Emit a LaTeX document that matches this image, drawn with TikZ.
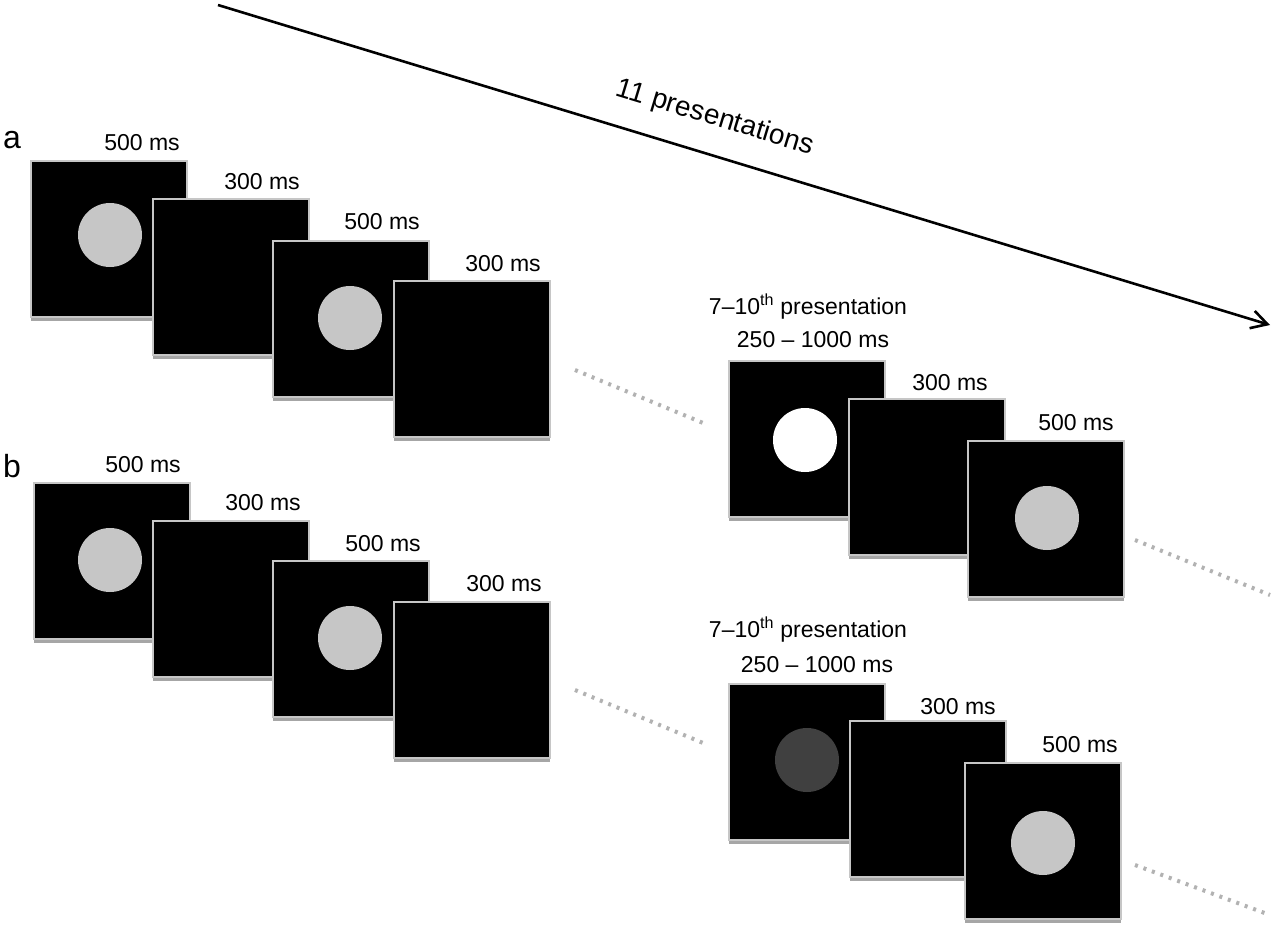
\documentclass[tikz,border=0pt]{standalone}
\usepackage{fontspec}
\setmainfont{Liberation Sans}
\usetikzlibrary{arrows.meta}
\begin{document}
\begin{tikzpicture}[x=1pt,y=-1pt,
 scr/.style={draw=gray!45,line width=1.5pt,fill=black,minimum width=156pt,minimum height=156pt,anchor=north west,inner sep=0pt,
   preaction={fill=gray!70,transform canvas={yshift=-4pt}}},
 dot/.style={circle,minimum size=64pt,inner sep=0pt,draw=none},
 lbl/.style={font=\fontsize{23}{26}\selectfont,inner sep=0pt},
 dl/.style={line width=4pt,gray!60,dash pattern=on 3pt off 6pt}]
\useasboundingbox (0,0) rectangle (1272,932);
\fill[white] (0,0) rectangle (1272,932);
% arrow
\coordinate (s) at (218,5); \coordinate (e) at (1270,325);
\draw[line width=2.6pt,-{Straight Barb[length=16pt,width=18pt]}] (s) -- (e);
\node[lbl,font=\fontsize{28}{30}\selectfont,rotate=-16.9] (tt) at (715,118) {11 presentations};
% row a
\node[lbl,font=\fontsize{32}{34}\selectfont] (la) at (12,140) {a};
\node[scr] (a1) at (30,160) {};
\node[scr] (a2) at (152,198) {};
\node[scr] (a3) at (272,240) {};
\node[scr] (a4) at (393,280) {};
\node[dot,fill=gray!45] (ca1) at (110,235) {};
\node[dot,fill=gray!45] (ca3) at (350,318) {};
\node[lbl] (ta1) at (142,143) {500 ms};
\node[lbl] (ta2) at (262,182) {300 ms};
\node[lbl] (ta3) at (382,222) {500 ms};
\node[lbl] (ta4) at (503,264) {300 ms};
% row b
\node[lbl,font=\fontsize{32}{34}\selectfont] (lb) at (12,466) {b};
\node[scr] (b1) at (33,482) {};
\node[scr] (b2) at (152,520) {};
\node[scr] (b3) at (272,560) {};
\node[scr] (b4) at (393,601) {};
\node[dot,fill=gray!45] (cb1) at (110,560) {};
\node[dot,fill=gray!45] (cb3) at (350,638) {};
\node[lbl] (tb1) at (143,465) {500 ms};
\node[lbl] (tb2) at (263,503) {300 ms};
\node[lbl] (tb3) at (383,544) {500 ms};
\node[lbl] (tb4) at (504,584) {300 ms};
% right upper
\node[scr] (c1) at (728,360) {};
\node[scr] (c2) at (848,398) {};
\node[scr] (c3) at (967,440) {};
\node[dot,fill=white] (cc1) at (805,440) {};
\node[dot,fill=gray!45] (cc3) at (1047,518) {};
\node[lbl] (tc0) at (808,307) {7–10\textsuperscript{th} presentation};
\node[lbl] (tc1) at (813,340) {250 – 1000 ms};
\node[lbl] (tc2) at (950,383) {300 ms};
\node[lbl] (tc3) at (1076,423) {500 ms};
% right lower
\node[scr] (d1) at (728,683) {};
\node[scr] (d2) at (849,720) {};
\node[scr] (d3) at (964,762) {};
\node[dot,fill=black!75] (cd1) at (807,760) {};
\node[dot,fill=gray!45] (cd3) at (1043,843) {};
\node[lbl] (td0) at (808,630) {7–10\textsuperscript{th} presentation};
\node[lbl] (td1) at (817,665) {250 – 1000 ms};
\node[lbl] (td2) at (958,707) {300 ms};
\node[lbl] (td3) at (1080,745) {500 ms};
% dotted
\coordinate (p1) at (575,370); \coordinate (p2) at (708,425);
\coordinate (p3) at (1135,540); \coordinate (p4) at (1270,595);
\coordinate (p5) at (575,690); \coordinate (p6) at (708,745);
\coordinate (p7) at (1135,865); \coordinate (p8) at (1270,915);
\draw[dl] (p1)--(p2); \draw[dl] (p3)--(p4);
\draw[dl] (p5)--(p6); \draw[dl] (p7)--(p8);
\end{tikzpicture}
\end{document}
